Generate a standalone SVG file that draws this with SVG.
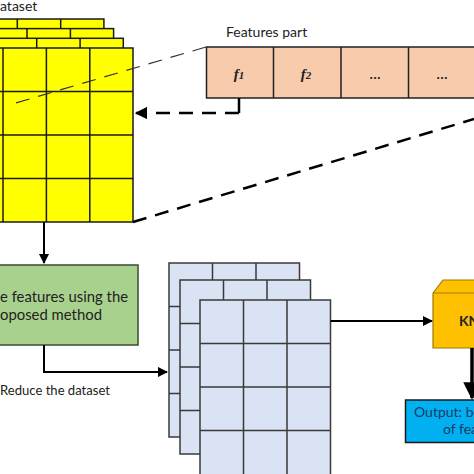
<svg xmlns="http://www.w3.org/2000/svg" width="474" height="474" viewBox="0 0 474 474">
<defs>
<style>
.t{font-family:Lato,"Open Sans","Liberation Sans",sans-serif;font-size:14px;fill:#222}
.y{fill:#FFFF00;stroke:#1a1a1a;stroke-width:1.5}
.yl{stroke:#1a1a1a;stroke-width:1.5}
.b{fill:#DAE3F3;stroke:#3a3a3a;stroke-width:1.5}
.bl{stroke:#3a3a3a;stroke-width:1.5}
.p{fill:#F8CBAD;stroke:#222;stroke-width:1.5}
.c{fill:none;stroke:#000;stroke-width:2}
</style>
<marker id="ah" viewBox="0 0 10 10" refX="9" refY="5" markerWidth="5" markerHeight="5" orient="auto-start-reverse">
<path d="M0,0 L10,5 L0,10 z" fill="#000"/>
</marker>
</defs>
<rect width="474" height="474" fill="#fff"/>

<text class="t" x="0" y="11">ataset</text>

<g id="yellow-dataset">
<g transform="translate(-29.1,-29)">
<rect class="y" x="-40.5" y="48" width="173.5" height="174"/>
<path class="yl" d="M3,48V222M46.4,48V222M89.8,48V222"/>
</g>
<g transform="translate(-19.4,-19.4)">
<rect class="y" x="-40.5" y="48" width="173.5" height="174"/>
<path class="yl" d="M3,48V222M46.4,48V222M89.8,48V222"/>
</g>
<g transform="translate(-9.7,-9.7)">
<rect class="y" x="-40.5" y="48" width="173.5" height="174"/>
<path class="yl" d="M3,48V222M46.4,48V222M89.8,48V222"/>
</g>
<rect class="y" x="-40.5" y="48" width="173.5" height="174"/>
<path class="yl" d="M3,48V222M46.4,48V222M89.8,48V222M-40,91.5H133M-40,135H133M-40,178.5H133"/>
</g>

<g id="features-part">
<text class="t" x="226" y="37">Features part</text>
<rect class="p" x="206.5" y="47" width="272" height="51"/>
<path stroke="#222" stroke-width="1.5" d="M273.5,47V98M341,47V98M408.5,47V98"/>
<g font-family="Liberation Serif,serif" font-style="italic" font-weight="bold" font-size="15" fill="#222" text-anchor="middle">
<text x="239" y="79">f<tspan font-size="11">1</tspan></text>
<text x="306" y="79">f<tspan font-size="11">2</tspan></text>
</g>
<g font-family="Liberation Sans,sans-serif" font-weight="bold" font-size="12" fill="#222" text-anchor="middle">
<text x="375" y="79">…</text>
<text x="442" y="79">…</text>
</g>
</g>

<g id="reduce-box">
<rect x="-10" y="265" width="148" height="80" fill="#A9D18E" stroke="#3c4a34" stroke-width="1.5"/>
<text class="t" style="font-size:16px" x="0" y="302" textLength="128" lengthAdjust="spacingAndGlyphs">e features using the</text>
<text class="t" style="font-size:16px" x="0" y="320" textLength="102" lengthAdjust="spacingAndGlyphs">oposed method</text>
</g>

<text class="t" x="0" y="395" textLength="110" lengthAdjust="spacingAndGlyphs">Reduce the dataset</text>

<g id="reduced-dataset">
<g>
<rect class="b" x="169" y="263" width="130.5" height="174"/>
<path class="bl" d="M212.5,263V437M256,263V437M169,306.5H299.5M169,350H299.5M169,393.5H299.5"/>
</g>
<g>
<rect class="b" x="180" y="280" width="130.5" height="174"/>
<path class="bl" d="M223.5,280V454M267,280V454M180,323.5H310.5M180,367H310.5M180,410.5H310.5"/>
</g>
<g>
<rect class="b" x="200" y="300" width="130.5" height="180"/>
<path class="bl" d="M243.5,300V480M287,300V480M200,343.5H330.5M200,387H330.5M200,430.5H330.5"/>
</g>
</g>

<g id="knn">
<path d="M433,293L443,280H480V348H433Z" fill="#FFC000" stroke="#a07a00" stroke-width="1.2"/>
<path d="M433,293H480" stroke="#a07a00" stroke-width="1.2"/>
<text x="459" y="326" font-family="Lato,Open Sans,Liberation Sans,sans-serif" font-weight="bold" font-size="14" fill="#222">KN</text>
</g>

<g id="output">
<rect x="405.5" y="400" width="80" height="42.5" fill="#00B0F0" stroke="#1a1a1a" stroke-width="1.5"/>
<text x="414" y="417" font-family="Lato,Open Sans,Liberation Sans,sans-serif" font-size="14" fill="#1F3864">Output: be</text>
<text x="443" y="434" font-family="Lato,Open Sans,Liberation Sans,sans-serif" font-size="14" fill="#1F3864">of fea</text>
</g>

<g id="connectors">
<line x1="206" y1="47" x2="9" y2="105" stroke="#333" stroke-width="1.2" stroke-dasharray="14 9"/>
<line x1="133" y1="222" x2="474" y2="119" stroke="#000" stroke-width="2.5" stroke-dasharray="14 9"/>
<path d="M239,98V113" stroke="#000" stroke-width="2.5" fill="none"/>
<path d="M239,113H136" stroke="#000" stroke-width="2.5" fill="none" stroke-dasharray="14 9" marker-end="url(#ah)"/>
<path class="c" d="M44,222V263" marker-end="url(#ah)"/>
<path class="c" d="M44,345V372H167" marker-end="url(#ah)"/>
<path class="c" d="M330.5,321H432" marker-end="url(#ah)"/>
<path d="M472,348V398" stroke="#000" stroke-width="3.5" fill="none" marker-end="url(#ah)"/>
</g>
</svg>
